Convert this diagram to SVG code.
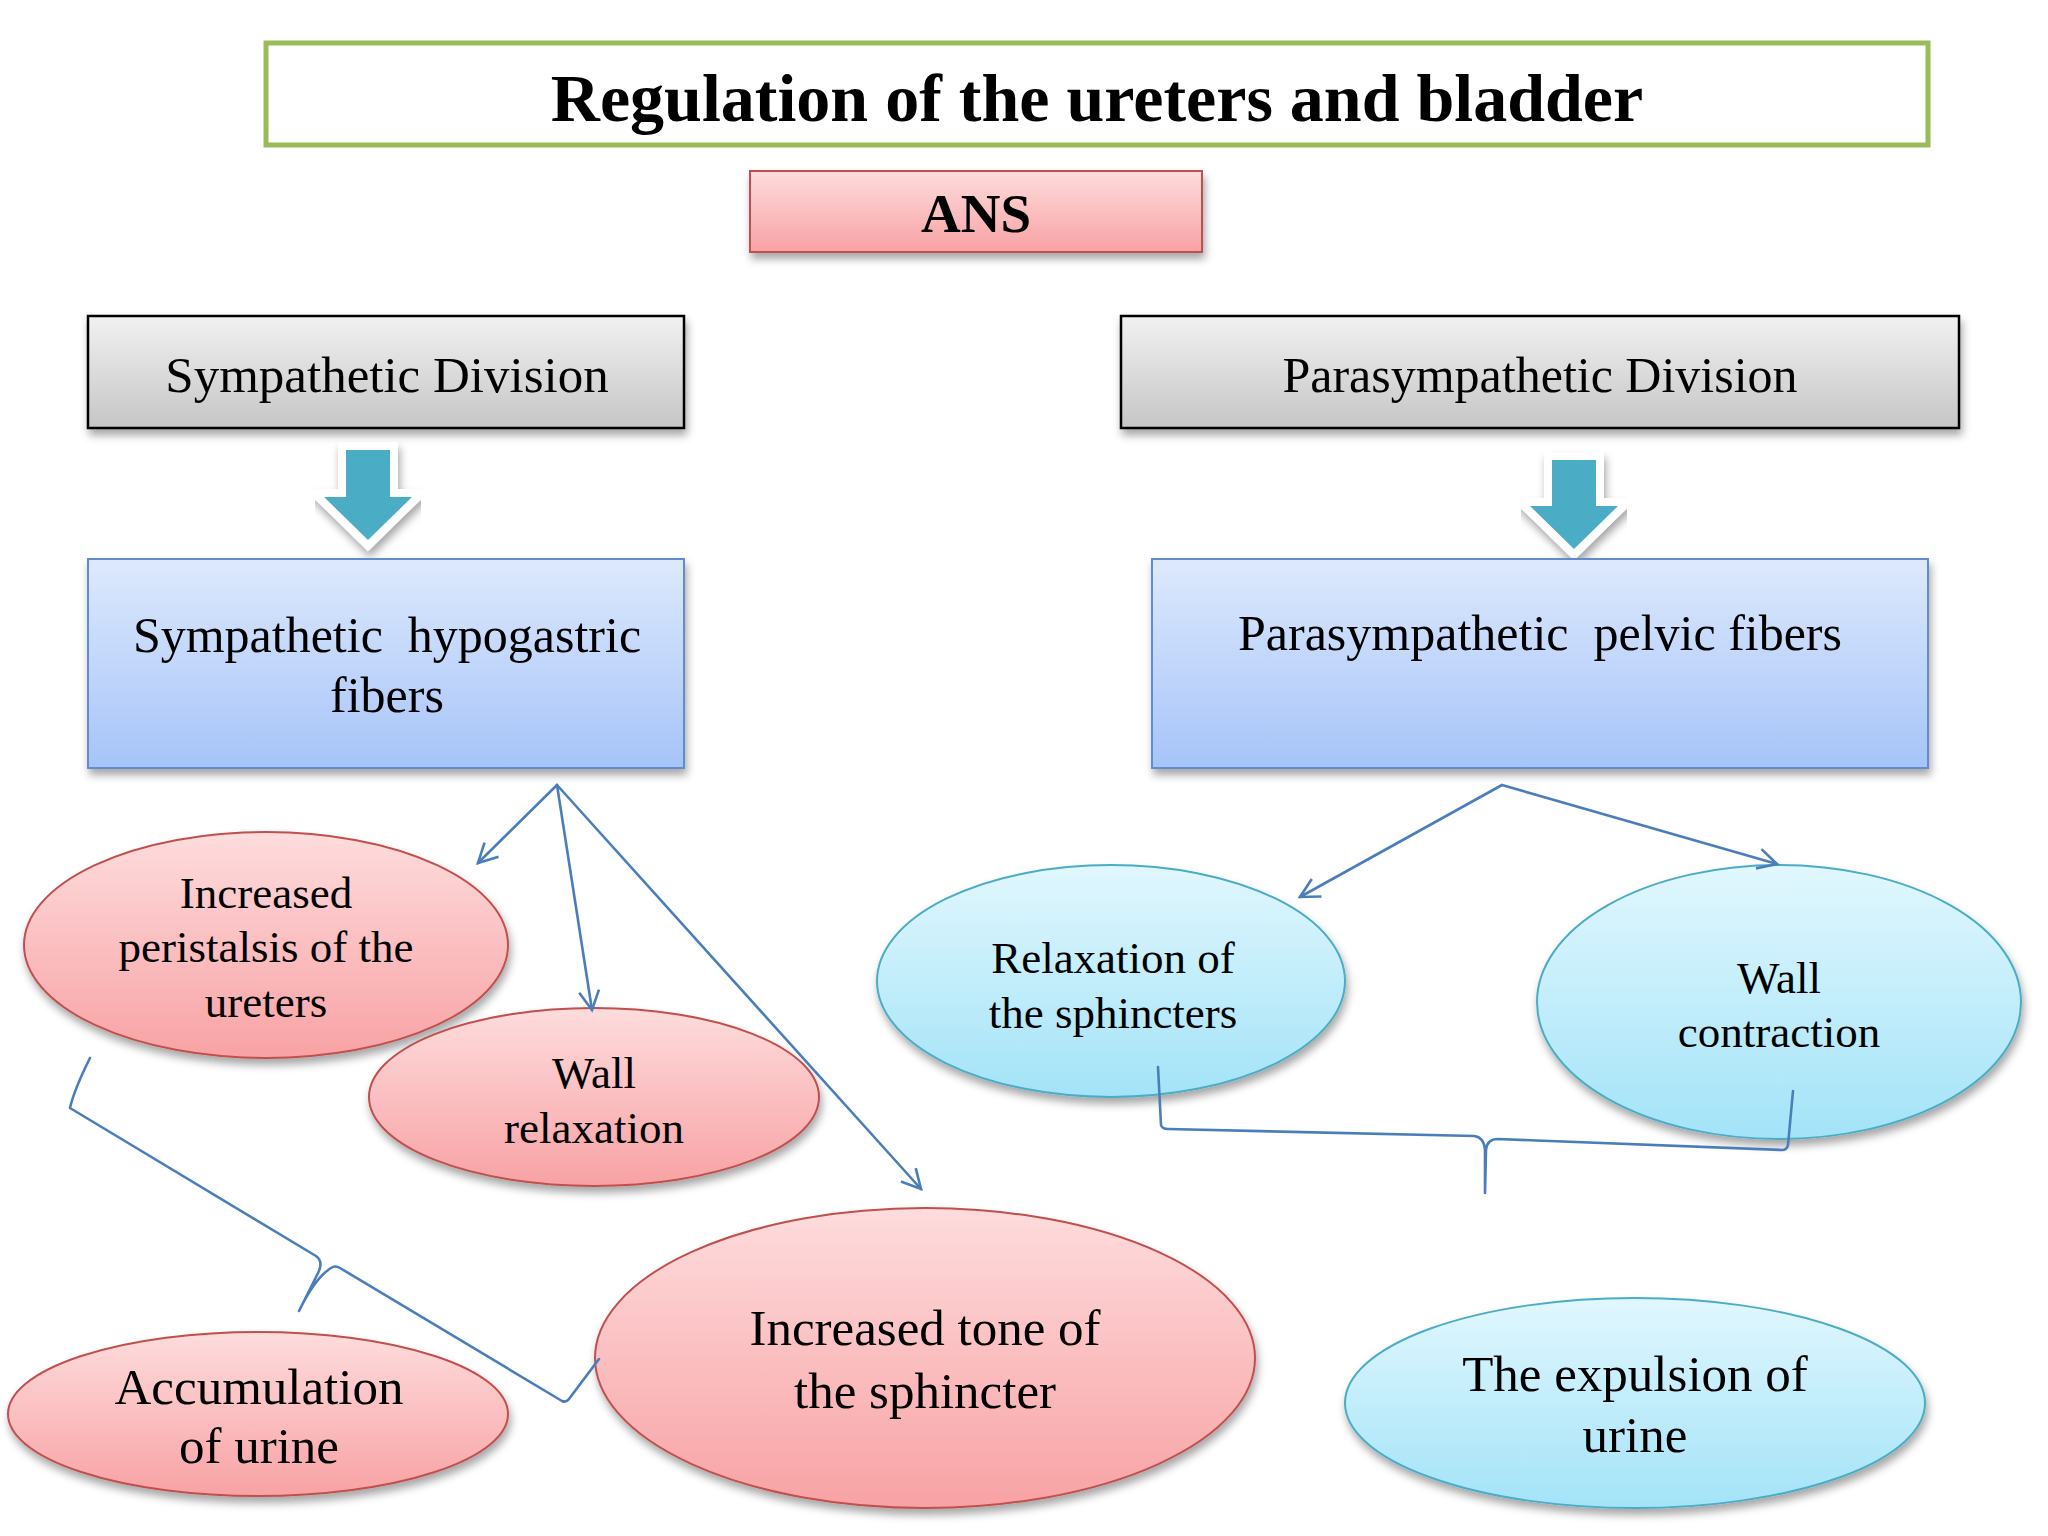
<svg xmlns="http://www.w3.org/2000/svg" width="2048" height="1536" viewBox="0 0 2048 1536">
<style>
.t{font-family:"Liberation Serif","Times New Roman",serif;fill:#000;text-anchor:middle}
.b{font-weight:bold}
.c{fill:none;stroke:#4a7ebb;stroke-width:2.6;stroke-linejoin:round;stroke-linecap:round}
</style>
<defs>
<linearGradient id="gPink" x1="0" y1="0" x2="0" y2="1"><stop offset="0" stop-color="#fedcdd"/><stop offset="1" stop-color="#f8a2a4"/></linearGradient>
<linearGradient id="gGray" x1="0" y1="0" x2="0" y2="1"><stop offset="0" stop-color="#f1f1f1"/><stop offset="1" stop-color="#c6c6c6"/></linearGradient>
<linearGradient id="gBlue" x1="0" y1="0" x2="0" y2="1"><stop offset="0" stop-color="#dde9fd"/><stop offset="1" stop-color="#a6c4f8"/></linearGradient>
<linearGradient id="gCyan" x1="0" y1="0" x2="0" y2="1"><stop offset="0" stop-color="#e1f7fe"/><stop offset="1" stop-color="#a3e3f8"/></linearGradient>
<filter id="sh" x="-10%" y="-10%" width="120%" height="130%"><feDropShadow dx="2" dy="6" stdDeviation="4" flood-color="#000" flood-opacity="0.35"/></filter>
<marker id="ah" markerUnits="userSpaceOnUse" viewBox="-22 -12 26 24" refX="0" refY="0" markerWidth="26" markerHeight="24" orient="auto">
<path d="M-19,-10 L0,0 L-19,10" fill="none" stroke="#4a7ebb" stroke-width="2.6" stroke-linejoin="miter"/>
</marker>
</defs>
<rect width="2048" height="1536" fill="#fff"/>

<g id="title">
<rect x="266" y="43" width="1662" height="102" fill="#fff" stroke="#9bbb59" stroke-width="5"/>
<text class="t b" x="1097" y="121" font-size="68">Regulation of the ureters and bladder</text>
</g>

<g id="ans">
<rect x="750" y="171" width="452" height="81" fill="url(#gPink)" stroke="#c0504d" stroke-width="2" filter="url(#sh)"/>
<text class="t b" x="976" y="232" font-size="55">ANS</text>
</g>

<g id="sympathetic-division">
<rect x="88" y="316" width="596" height="112" fill="url(#gGray)" stroke="#000" stroke-width="2.5" filter="url(#sh)"/>
<text class="t" x="387" y="392" font-size="51">Sympathetic Division</text>
</g>

<g id="parasympathetic-division">
<rect x="1121" y="316" width="838" height="112" fill="url(#gGray)" stroke="#000" stroke-width="2.5" filter="url(#sh)"/>
<text class="t" x="1540" y="392" font-size="50">Parasympathetic Division</text>
</g>

<g id="arrow-left">
<polygon points="346,450 390,450 390,497 412,497 368,540 324,497 346,497" fill="#4bacc6" stroke="#fff" stroke-width="16" stroke-linejoin="miter" filter="url(#sh)"/>
<polygon points="346,450 390,450 390,497 412,497 368,540 324,497 346,497" fill="#4bacc6"/>
</g>
<g id="arrow-right">
<polygon points="1552,460 1596,460 1596,506 1618,506 1574,549 1530,506 1552,506" fill="#4bacc6" stroke="#fff" stroke-width="16" stroke-linejoin="miter" filter="url(#sh)"/>
<polygon points="1552,460 1596,460 1596,506 1618,506 1574,549 1530,506 1552,506" fill="#4bacc6"/>
</g>

<g id="sympathetic-fibers">
<rect x="88" y="559" width="596" height="209" fill="url(#gBlue)" stroke="#5f8dcf" stroke-width="2" filter="url(#sh)"/>
<text class="t" x="387" y="652" font-size="50" xml:space="preserve">Sympathetic  hypogastric</text>
<text class="t" x="387" y="712" font-size="50">fibers</text>
</g>

<g id="parasympathetic-fibers">
<rect x="1152" y="559" width="776" height="209" fill="url(#gBlue)" stroke="#5f8dcf" stroke-width="2" filter="url(#sh)"/>
<text class="t" x="1540" y="650" font-size="50" xml:space="preserve">Parasympathetic  pelvic fibers</text>
</g>

<g id="increased-peristalsis">
<ellipse cx="266" cy="945" rx="242" ry="113" fill="url(#gPink)" stroke="#c0504d" stroke-width="2" filter="url(#sh)"/>
<text class="t" x="266" y="908" font-size="45">Increased</text>
<text class="t" x="266" y="962" font-size="45">peristalsis of the</text>
<text class="t" x="266" y="1017" font-size="45">ureters</text>
</g>

<g id="wall-relaxation">
<ellipse cx="594" cy="1097" rx="225" ry="89" fill="url(#gPink)" stroke="#c0504d" stroke-width="2" filter="url(#sh)"/>
<text class="t" x="594" y="1088" font-size="45">Wall</text>
<text class="t" x="594" y="1143" font-size="45">relaxation</text>
</g>

<g id="increased-tone">
<ellipse cx="925" cy="1358" rx="330" ry="150" fill="url(#gPink)" stroke="#c0504d" stroke-width="2" filter="url(#sh)"/>
<text class="t" x="925" y="1345" font-size="51">Increased tone of</text>
<text class="t" x="925" y="1408" font-size="51">the sphincter</text>
</g>

<g id="accumulation">
<ellipse cx="258" cy="1414" rx="250" ry="82" fill="url(#gPink)" stroke="#c0504d" stroke-width="2" filter="url(#sh)"/>
<text class="t" x="259" y="1404" font-size="51">Accumulation</text>
<text class="t" x="259" y="1463" font-size="51">of urine</text>
</g>

<g id="relaxation-sphincters">
<ellipse cx="1111" cy="981" rx="234" ry="116" fill="url(#gCyan)" stroke="#4bacc6" stroke-width="2" filter="url(#sh)"/>
<text class="t" x="1113" y="973" font-size="45">Relaxation of</text>
<text class="t" x="1113" y="1028" font-size="45">the sphincters</text>
</g>

<g id="wall-contraction">
<ellipse cx="1779" cy="1002" rx="242" ry="137" fill="url(#gCyan)" stroke="#4bacc6" stroke-width="2" filter="url(#sh)"/>
<text class="t" x="1779" y="993" font-size="45">Wall</text>
<text class="t" x="1779" y="1047" font-size="45">contraction</text>
</g>

<g id="expulsion">
<ellipse cx="1635" cy="1403" rx="290" ry="105" fill="url(#gCyan)" stroke="#4bacc6" stroke-width="2" filter="url(#sh)"/>
<text class="t" x="1635" y="1391" font-size="51">The expulsion of</text>
<text class="t" x="1635" y="1452" font-size="51">urine</text>
</g>

<g id="connectors">
<path class="c" d="M557,785 L478,863" marker-end="url(#ah)"/>
<path class="c" d="M557,785 L592,1010" marker-end="url(#ah)"/>
<path class="c" d="M557,785 L921,1189" marker-end="url(#ah)"/>
<path class="c" d="M1502,785 L1300,897" marker-end="url(#ah)"/>
<path class="c" d="M1502,785 L1777,864" marker-end="url(#ah)"/>
<path class="c" d="M90,1058 Q74,1090 70,1108 L316,1256 Q323,1261 319,1271 L299,1311 Q315,1278 331,1268 Q335,1265 340,1268 L562,1401 Q566,1403 569,1399 L599,1359"/>
<path class="c" d="M1158,1067 L1161,1125 Q1162,1129 1168,1129 L1474,1136 Q1484,1137 1485,1150 L1485,1193 L1486,1150 Q1487,1139 1498,1139 L1782,1150 Q1787,1150 1788,1145 L1793,1091"/>
</g>
</svg>
